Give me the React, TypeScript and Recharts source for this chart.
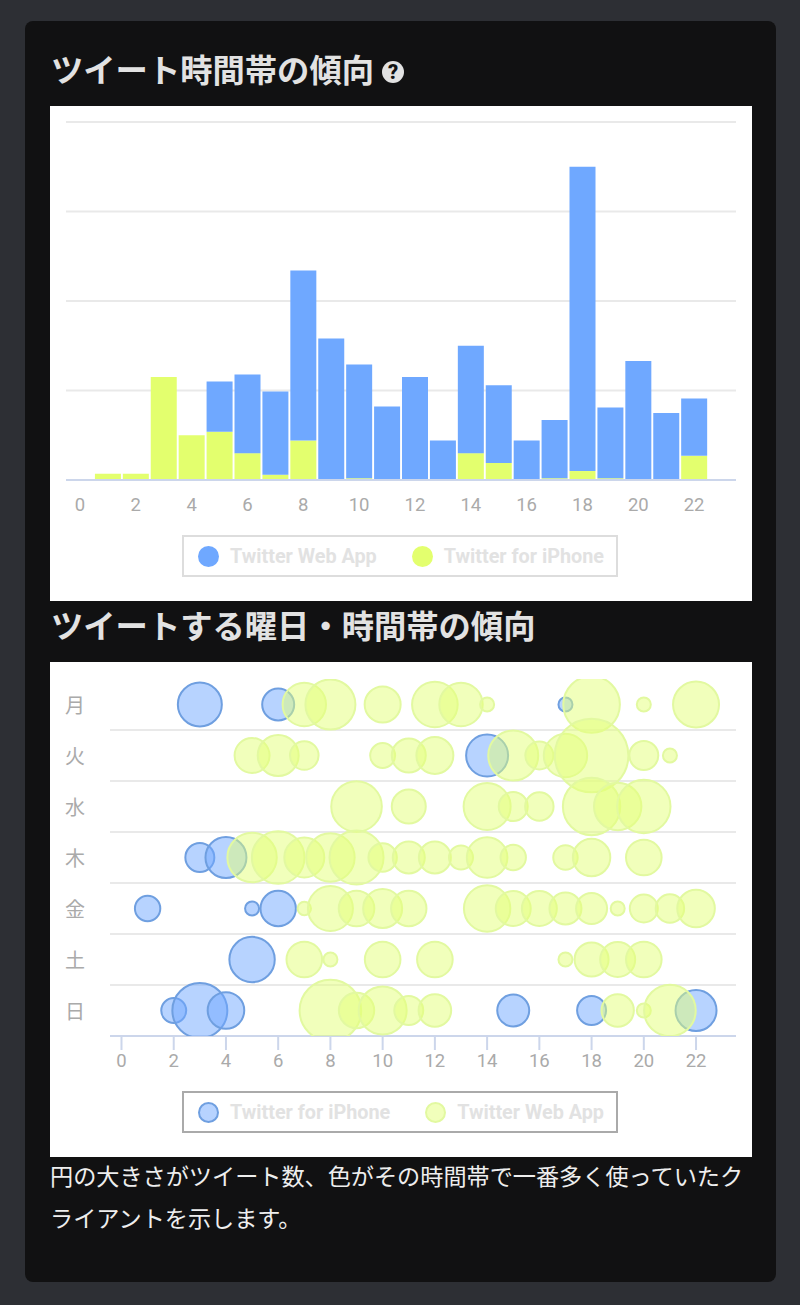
import React from "react";
import {
  BarChart,
  Bar,
  ScatterChart,
  Scatter,
  XAxis,
  YAxis,
  ZAxis,
  CartesianGrid,
  Legend,
} from "recharts";

const hours = [0, 1, 2, 3, 4, 5, 6, 7, 8, 9, 10, 11, 12, 13, 14, 15, 16, 17, 18, 19, 20, 21, 22, 23];
const webAppCounts = [0, 0, 0, 0, 0, 56, 88, 93, 190, 158, 127, 82, 115, 44, 120, 87, 44, 65, 340, 79, 133, 75, 64, 0];
const iphoneCounts = [0, 7, 7, 115, 50, 54, 30, 6, 44, 0, 2, 0, 0, 0, 30, 19, 0, 2, 10, 2, 0, 0, 27, 0];
const barTicks = [0, 100, 200, 300, 400];
const hourTicks = [0, 2, 4, 6, 8, 10, 12, 14, 16, 18, 20, 22];

const days = ["月", "火", "水", "木", "金", "土", "日"];
const dayTicks = [0, 1, 2, 3, 4, 5, 6];
const rowBorders = [0.5, 1.5, 2.5, 3.5, 4.5, 5.5];

// [hour, day, tweets]
const iphoneBubbles = [
  [3, 0, 484], [6, 0, 256], [17, 0, 49],
  [14, 1, 441],
  [3, 3, 210], [4, 3, 420],
  [1, 4, 161], [5, 4, 49], [6, 4, 313],
  [5, 5, 515],
  [2, 6, 156], [3, 6, 756], [4, 6, 335], [15, 6, 256], [18, 6, 210], [22, 6, 420],
];
const webAppBubbles = [
  [7, 0, 471], [8, 0, 625], [10, 0, 324], [12, 0, 520], [13, 0, 471], [14, 0, 49], [18, 0, 801], [20, 0, 49], [22, 0, 529],
  [5, 1, 306], [6, 1, 420], [7, 1, 204], [10, 1, 156], [11, 1, 289], [12, 1, 342], [15, 1, 625], [16, 1, 196], [17, 1, 471], [18, 1, 1354], [20, 1, 210], [21, 1, 49],
  [9, 2, 640], [11, 2, 289], [14, 2, 552], [15, 2, 210], [16, 2, 202], [18, 2, 824], [19, 2, 562], [20, 2, 713],
  [5, 3, 610], [6, 3, 692], [7, 3, 400], [8, 3, 586], [9, 3, 729], [10, 3, 202], [11, 3, 256], [12, 3, 256], [13, 3, 144], [14, 3, 412], [15, 3, 161], [17, 3, 149], [18, 3, 350], [20, 3, 317],
  [7, 4, 45], [8, 4, 506], [9, 4, 317], [10, 4, 380], [11, 4, 313], [14, 4, 538], [15, 4, 306], [16, 4, 306], [17, 4, 256], [18, 4, 240], [19, 4, 49], [20, 4, 196], [21, 4, 202], [22, 4, 353],
  [7, 5, 317], [8, 5, 49], [10, 5, 317], [12, 5, 317], [17, 5, 49], [18, 5, 289], [19, 5, 306], [20, 5, 317],
  [8, 6, 949], [9, 6, 313], [10, 6, 576], [11, 6, 210], [12, 6, 266], [19, 6, 262], [20, 6, 49], [21, 6, 666],
];

const toPoints = (rows: number[][]) => rows.map(([hour, day, tweets]) => ({ hour, day, tweets }));

const hourly = hours.map((hour, i) => ({
  hour,
  web: webAppCounts[i],
  iphone: iphoneCounts[i],
}));

const BLUE = "#6fa8ff";
const GREEN = "#e3ff6e";
const BUBBLE_GREEN = "#e3ff78";
const BLUE_EDGE = "#6f9fe0";
const GREEN_EDGE = "#e2f9a0";
const JP_FONT = '"Noto Sans CJK JP", sans-serif';
const TICK_STYLE = { fontSize: 18.5, fill: "#aaaaaa", fontFamily: "Roboto" };

interface LegendEntry {
  name: string;
  color: string;
  stroke?: string;
  gap: number;
}

function ChartLegend({ items, border }: { items: LegendEntry[]; border: string }) {
  return (
    <div
      style={{
        boxSizing: "border-box",
        width: 436,
        height: 42,
        border: `2px solid ${border}`,
        display: "flex",
        alignItems: "center",
        paddingLeft: 14,
        fontFamily: "Roboto",
        fontWeight: 700,
        fontSize: 19.8,
        color: "#e2e2e2",
      }}
    >
      {items.map((item) => (
        <span key={item.name} style={{ display: "flex", alignItems: "center", marginRight: item.gap }}>
          <span
            style={{
              boxSizing: "border-box",
              width: 21,
              height: 21,
              borderRadius: 11,
              marginRight: 11,
              background: item.color,
              border: item.stroke ? `2px solid ${item.stroke}` : "none",
            }}
          />
          {item.name}
        </span>
      ))}
    </div>
  );
}

function HourBars() {
  return (
    <BarChart
      width={702}
      height={495}
      data={hourly}
      barCategoryGap={1}
      margin={{ top: 16, right: 16, left: 16, bottom: 39 }}
    >
      <CartesianGrid vertical={false} stroke="#e9e9e9" strokeWidth={2} />
      <XAxis
        dataKey="hour"
        height={40}
        interval={1}
        tickLine={false}
        tickMargin={12}
        stroke="#ccd6eb"
        strokeWidth={2}
        tick={TICK_STYLE}
      />
      <YAxis hide domain={[0, 400]} ticks={barTicks} />
      <Bar dataKey="iphone" stackId="a" fill={GREEN} isAnimationActive={false} />
      <Bar dataKey="web" stackId="a" fill={BLUE} isAnimationActive={false} />
      <Legend
        verticalAlign="bottom"
        height={42}
        width={436}
        wrapperStyle={{ left: 132, bottom: 24 }}
        content={() => (
          <ChartLegend
            border="#dddddd"
            items={[
              { name: "Twitter Web App", color: BLUE, gap: 35 },
              { name: "Twitter for iPhone", color: GREEN, gap: 0 },
            ]}
          />
        )}
      />
    </BarChart>
  );
}

function DayHourBubbles() {
  return (
    <ScatterChart
      width={702}
      height={495}
      margin={{ top: 17, right: 16, left: 0, bottom: 39 }}
    >
      <CartesianGrid vertical={false} horizontalValues={rowBorders} stroke="#e9e9e9" strokeWidth={2} />
      <XAxis
        type="number"
        dataKey="hour"
        domain={[-0.44, 23.53]}
        ticks={hourTicks}
        allowDataOverflow
        height={40}
        tickSize={14}
        tickMargin={4}
        stroke="#ccd6eb"
        strokeWidth={2}
        tick={TICK_STYLE}
      />
      <YAxis
        type="number"
        dataKey="day"
        reversed
        domain={[-0.5, 6.5]}
        ticks={dayTicks}
        allowDataOverflow
        width={60}
        axisLine={false}
        tickLine={false}
        tickSize={0}
        tickMargin={25}
        tick={{ fontSize: 20, fill: "#aaaaaa", fontFamily: JP_FONT, dy: 1 }}
        tickFormatter={(d: number) => days[d]}
      />
      <ZAxis type="number" dataKey="tweets" domain={[0, 1400]} range={[0, 4398]} />
      <Scatter
        data={toPoints(iphoneBubbles)}
        fill={BLUE}
        fillOpacity={0.5}
        stroke={BLUE_EDGE}
        strokeWidth={2}
        isAnimationActive={false}
      />
      <Scatter
        data={toPoints(webAppBubbles)}
        fill={BUBBLE_GREEN}
        fillOpacity={0.5}
        stroke={GREEN_EDGE}
        strokeWidth={2}
        isAnimationActive={false}
      />
      <Legend
        verticalAlign="bottom"
        height={42}
        width={436}
        wrapperStyle={{ left: 132, bottom: 24 }}
        content={() => (
          <ChartLegend
            border="#aaaaaa"
            items={[
              { name: "Twitter for iPhone", color: "rgba(111,168,255,0.5)", stroke: BLUE_EDGE, gap: 35 },
              { name: "Twitter Web App", color: "rgba(227,255,120,0.5)", stroke: GREEN_EDGE, gap: 0 },
            ]}
          />
        )}
      />
    </ScatterChart>
  );
}

const titleStyle: React.CSSProperties = {
  position: "absolute",
  left: 51,
  margin: 0,
  fontFamily: JP_FONT,
  fontWeight: 700,
  fontSize: 32.3,
  lineHeight: "44px",
  color: "#e2e2e2",
  whiteSpace: "nowrap",
};

const panelStyle: React.CSSProperties = {
  position: "absolute",
  left: 50,
  width: 702,
  height: 495,
  background: "#ffffff",
};

export default function App() {
  return (
    <div style={{ position: "absolute", left: 0, top: 0, width: 800, height: 1305, background: "#2d2f34", overflow: "hidden" }}>
      <div style={{ position: "absolute", left: 25, top: 21, width: 751, height: 1261, borderRadius: 8, background: "#111112" }} />
      <h2 style={{ ...titleStyle, top: 46 }}>ツイート時間帯の傾向</h2>
      <div
        style={{
          position: "absolute",
          left: 382,
          top: 61,
          width: 22,
          height: 22,
          borderRadius: 11,
          background: "#e2e2e2",
          color: "#111112",
          fontFamily: "Roboto",
          fontWeight: 900,
          fontSize: 20,
          lineHeight: "22px",
          textAlign: "center",
        }}
      >
        ?
      </div>
      <div style={{ ...panelStyle, top: 106 }}>
        <HourBars />
      </div>
      <h2 style={{ ...titleStyle, top: 602 }}>ツイートする曜日・時間帯の傾向</h2>
      <div style={{ ...panelStyle, top: 662 }}>
        <DayHourBubbles />
      </div>
      <p
        style={{
          position: "absolute",
          left: 50,
          top: 1154,
          width: 702,
          margin: 0,
          fontFamily: JP_FONT,
          fontSize: 23.15,
          lineHeight: "42px",
          color: "#eeeeee",
        }}
      >
        円の大きさがツイート数、色がその時間帯で一番多く使っていたクライアントを示します。
      </p>
    </div>
  );
}
